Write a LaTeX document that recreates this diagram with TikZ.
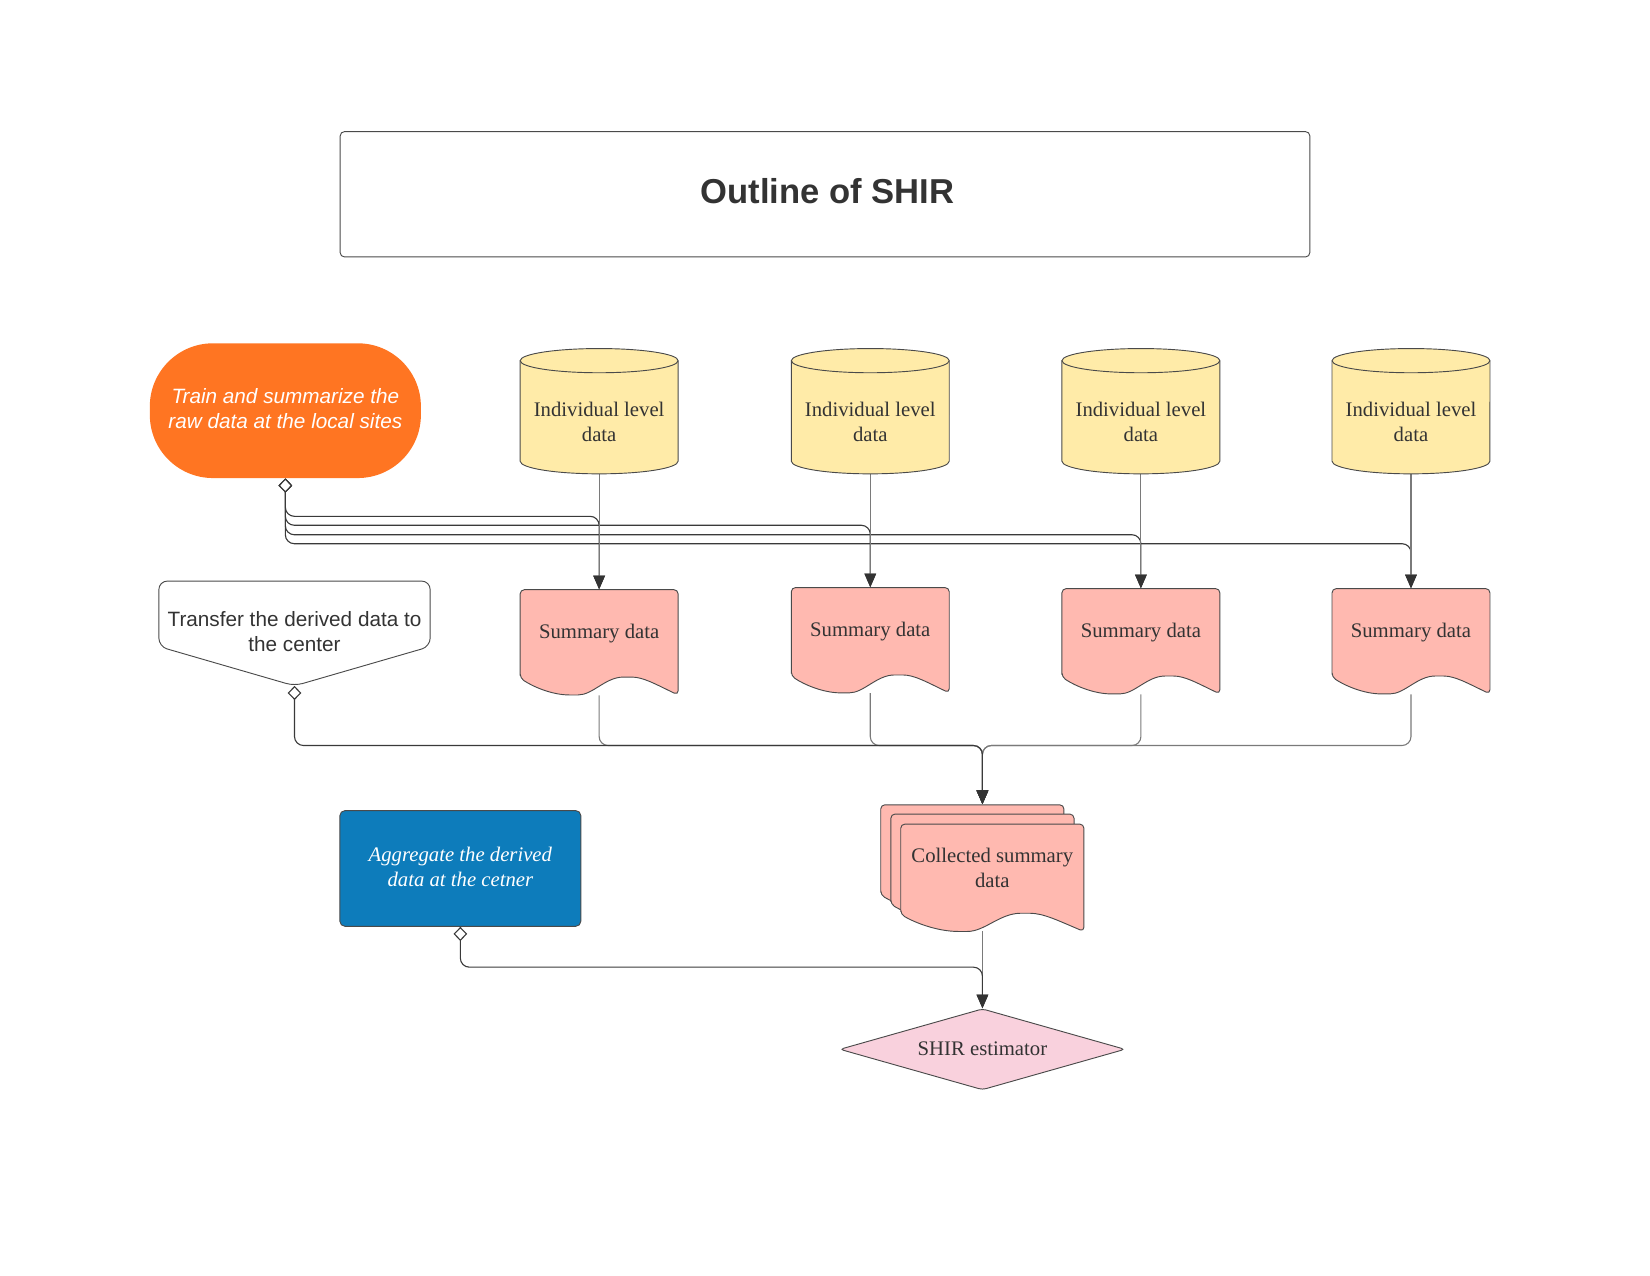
\documentclass[tikz,border=0pt]{standalone}
\usepackage{fontspec}
\setmainfont{Liberation Serif}
\setsansfont{Liberation Sans}
\usetikzlibrary{arrows.meta,backgrounds,calc,shapes.geometric}
\definecolor{orangeF}{HTML}{FF7522}
\definecolor{yellowF}{HTML}{FFEBA8}
\definecolor{pinkF}{HTML}{FFB9B0}
\definecolor{blueF}{HTML}{0D7CBB}
\definecolor{diaF}{HTML}{F9D1DD}
\definecolor{txt}{HTML}{333333}
\definecolor{border}{HTML}{4A4A4A}
\definecolor{linedark}{HTML}{3A3A3A}
\definecolor{linelight}{HTML}{7A7A7A}
\newcommand{\fs}{\fontsize{11.2}{13.6}\selectfont}
\newcommand{\docpath}[4]{(#1,{#2+0.84*#4}) -- (#1,#2) -- ({#1+#3},#2) -- ({#1+#3},{#2+#4}) .. controls ({#1+0.86*#3},{#2+0.9*#4}) and ({#1+0.78*#3},{#2+0.83*#4}) .. ({#1+0.68*#3},{#2+0.83*#4}) .. controls ({#1+0.54*#3},{#2+0.83*#4}) and ({#1+0.46*#3},{#2+#4}) .. ({#1+0.34*#3},{#2+#4}) .. controls ({#1+0.2*#3},{#2+#4}) and ({#1+0.08*#3},{#2+0.92*#4}) .. (#1,{#2+0.84*#4}) -- cycle}
\begin{document}
\begin{tikzpicture}[x=0.02cm,y=-0.02cm,
  lbl/.style={font=\fs, text=txt, align=center, inner sep=0pt},
  holder/.style={rectangle, inner sep=0pt, draw=none},
  bord/.style={draw=border, line width=0.5pt},
  cylst/.style={bord, fill=yellowF},
  docst/.style={bord, fill=pinkF, rounded corners=0.08cm},
  dconn/.style={draw=linedark, line width=0.6pt, rounded corners=0.17cm},
  lconn/.style={draw=linelight, line width=0.6pt, rounded corners=0.17cm},
  tip/.style={-{Triangle[length=0.26cm,width=0.22cm,color=txt]}},
  tailtip/.style={arrows={Diamond[open,length=0.27cm,width=0.26cm,fill=white]-Triangle[length=0.26cm,width=0.22cm,color=txt]}}
]
\useasboundingbox (0,0) rectangle (1567,1211);

% title
\node[bord, rectangle, rounded corners=0.08cm, minimum width=18.42cm, minimum height=2.38cm, inner sep=0pt] (title) at (783.5,184.5) {};
\node[inner sep=0pt, font=\sffamily\bfseries\fontsize{18.7}{22}\selectfont, text=txt] (titlet) at (786,181.5) {Outline of SHIR};

% orange terminal
\node[rectangle, fill=orangeF, rounded corners=1.2cm, minimum width=5.15cm, minimum height=2.56cm, inner sep=0pt] (train) at (271,390) {};
\node[lbl, font=\sffamily\itshape\fs, text=white] (traint) at (271,388) {Train and summarize the\\raw data at the local sites};

% cylinders
\foreach \cx [count=\i] in {569,826.5,1083.5,1340}{
  \node[holder, minimum width=3cm, minimum height=2.38cm] (cyl\i) at (\cx,390.5) {};
  \path[cylst] (\cx-75,342.5) -- (\cx-75,438) arc[start angle=180,end angle=360,x radius=1.5cm,y radius=0.24cm]
     -- (\cx+75,342.5) arc[start angle=0,end angle=180,x radius=1.5cm,y radius=0.23cm] -- cycle;
  \draw[bord] (\cx-75,342.5) arc[start angle=180,end angle=360,x radius=1.5cm,y radius=0.23cm];
  \node[lbl] (cylt\i) at (\cx,400.5) {Individual level\\data};
}

% summary docs
\foreach \cx/\ty [count=\i] in {569/560,826.5/558,1083.5/559,1340/559}{
  \node[holder, minimum width=3cm, minimum height=2cm] (sum\i) at (\cx,\ty+50) {};
  \path[docst] \docpath{\cx-75}{\ty}{150}{100};
  \node[lbl] (sumt\i) at (\cx,\ty+41.5) {Summary data};
}

% transfer
\node[holder, minimum width=5.14cm, minimum height=1.976cm] (transfer) at (279.7,601.6) {};
\path[bord, fill=white, rounded corners=0.16cm] (transfer.south) -- (transfer.west |- 0,614) -- (transfer.north west)
   -- (transfer.north east) -- (transfer.east |- 0,614) -- cycle;
\node[lbl, font=\sffamily\fs] (transfert) at (279.7,600) {Transfer the derived data to\\the center};

% collected
\node[holder, minimum width=3.88cm, minimum height=2.4cm] (coll) at (933,824) {};
\path[docst] \docpath{836.4}{764.3}{174}{102};
\path[docst] \docpath{846}{773.1}{174}{102};
\path[docst] \docpath{855.4}{782.6}{174}{102};
\node[lbl] (collt) at (942.4,824.5) {Collected summary\\data};

% aggregate
\node[rectangle, draw=border, line width=0.5pt, fill=blueF, rounded corners=0.1cm, minimum width=4.58cm, minimum height=2.2cm,
      inner sep=0pt] (agg) at (437.2,824.75) {};
\node[lbl, font=\itshape\fs, text=white] (aggt) at (437.2,823) {Aggregate the derived\\data at the cetner};

% SHIR estimator
\node[diamond, bord, fill=diaF, aspect=3.5, minimum width=5.42cm, minimum height=1.54cm, inner sep=0pt,
      rounded corners=0.07cm] (shir) at (933,996.5) {};
\node[lbl] (shirt) at (933,996) {SHIR estimator};

\begin{pgfonlayer}{background}
  \foreach \i/\dy in {1/36,2/44.5,3/53.5,4/62}
    \draw[dconn, tailtip] (train.south) -- ++(0,\dy) -| (sum\i.north);
  \foreach \i in {1,...,4}{
    \draw[lconn, tip] (cyl\i.south) -- (sum\i.north);
    \draw[lconn, tip] (sum\i.south) |- (coll.north |- 0,708) -- (coll.north);
  }
  \draw[dconn, tailtip] (transfer.south) |- (coll.north |- 0,708) -- (coll.north);
  \draw[lconn, tip] (coll.south) -- (shir.north);
  \draw[dconn, tailtip] (agg.south) |- (shir.north |- 0,918.5) -- (shir.north);
\end{pgfonlayer}
\end{tikzpicture}
\end{document}
